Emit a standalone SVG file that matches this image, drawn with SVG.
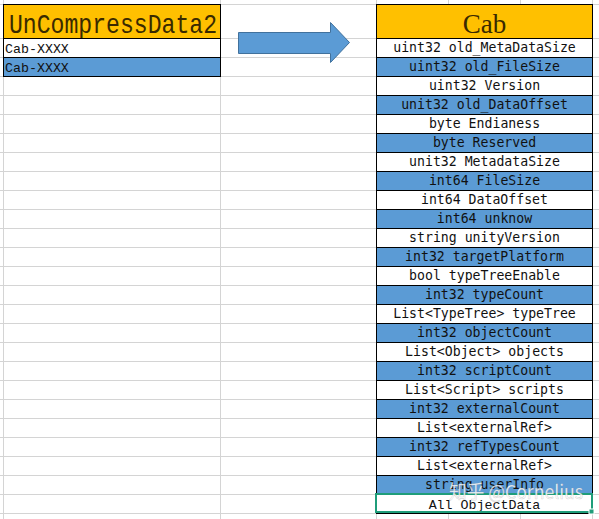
<svg xmlns="http://www.w3.org/2000/svg" width="599" height="519" viewBox="0 0 599 519">
<style>
.grid{stroke:#d4d4d4;stroke-width:1}
.hdr{fill:#FFC000;stroke:#000;stroke-width:1}
.w{fill:#fff;stroke:#000;stroke-width:1}
.b{fill:#5B9BD5;stroke:#000;stroke-width:1}
.t{font-family:"DejaVu Sans Mono","Liberation Mono",monospace;font-size:13.2px;fill:#111;text-anchor:middle}
.tl{font-family:"Liberation Mono","DejaVu Sans Mono",monospace;font-size:13.3px;fill:#111}
.h{font-family:"Liberation Mono",monospace;font-size:28px;fill:#3a2a00}
.hc{font-family:"Liberation Serif",serif;font-size:27px;fill:#3a2a00;text-anchor:middle}
</style>
<rect width="599" height="519" fill="#fff"/>
<g id="grid">
<path class="grid" d="M3.5 0V519M220.5 0V519M376.5 0V519M448.5 0V519M520.5 0V519M592.5 0V519"/>
<path class="grid" d="M0 4.5H599M0 38.5H599M0 57.5H599M0 76.5H599M0 95.5H599M0 114.5H599M0 133.5H599M0 152.5H599M0 171.5H599M0 190.5H599M0 209.5H599M0 228.5H599M0 247.5H599M0 266.5H599M0 285.5H599M0 304.5H599M0 323.5H599M0 342.5H599M0 361.5H599M0 380.5H599M0 399.5H599M0 418.5H599M0 437.5H599M0 456.5H599M0 475.5H599M0 494.5H599M0 513.5H599"/>
</g>
<g id="uncompress">
<rect class="hdr" x="3.5" y="4.5" width="217" height="34"/>
<text class="h" x="9" y="33" textLength="208" lengthAdjust="spacingAndGlyphs">UnCompressData2</text>
<rect class="w" x="3.5" y="38.5" width="217" height="19"/>
<text class="tl" x="5" y="53">Cab-XXXX</text>
<rect class="b" x="3.5" y="57.5" width="217" height="19"/>
<text class="tl" x="5" y="72">Cab-XXXX</text>
</g>
<g id="connectors">
<path d="M238.5 32.5H330.5V22.5L349.5 42.5L330.5 62.5V53.5H238.5Z" fill="#5B9BD5" stroke="#41719C" stroke-width="1"/>
</g>
<g id="cab">
<rect class="hdr" x="376.5" y="4.5" width="216" height="34"/>
<text class="hc" x="484.5" y="33">Cab</text>
<rect class="w" x="376.5" y="38.5" width="216" height="19"/><text class="t" x="484.5" y="52">uint32 old_MetaDataSize</text>
<rect class="b" x="376.5" y="57.5" width="216" height="19"/><text class="t" x="484.5" y="71">uint32 old_FileSize</text>
<rect class="w" x="376.5" y="76.5" width="216" height="19"/><text class="t" x="484.5" y="90">uint32 Version</text>
<rect class="b" x="376.5" y="95.5" width="216" height="19"/><text class="t" x="484.5" y="109">unit32 old_DataOffset</text>
<rect class="w" x="376.5" y="114.5" width="216" height="19"/><text class="t" x="484.5" y="128">byte Endianess</text>
<rect class="b" x="376.5" y="133.5" width="216" height="19"/><text class="t" x="484.5" y="147">byte Reserved</text>
<rect class="w" x="376.5" y="152.5" width="216" height="19"/><text class="t" x="484.5" y="166">unit32 MetadataSize</text>
<rect class="b" x="376.5" y="171.5" width="216" height="19"/><text class="t" x="484.5" y="185">int64 FileSize</text>
<rect class="w" x="376.5" y="190.5" width="216" height="19"/><text class="t" x="484.5" y="204">int64 DataOffset</text>
<rect class="b" x="376.5" y="209.5" width="216" height="19"/><text class="t" x="484.5" y="223">int64 unknow</text>
<rect class="w" x="376.5" y="228.5" width="216" height="19"/><text class="t" x="484.5" y="242">string unityVersion</text>
<rect class="b" x="376.5" y="247.5" width="216" height="19"/><text class="t" x="484.5" y="261">int32 targetPlatform</text>
<rect class="w" x="376.5" y="266.5" width="216" height="19"/><text class="t" x="484.5" y="280">bool typeTreeEnable</text>
<rect class="b" x="376.5" y="285.5" width="216" height="19"/><text class="t" x="484.5" y="299">int32 typeCount</text>
<rect class="w" x="376.5" y="304.5" width="216" height="19"/><text class="t" x="484.5" y="318">List&lt;TypeTree&gt; typeTree</text>
<rect class="b" x="376.5" y="323.5" width="216" height="19"/><text class="t" x="484.5" y="337">int32 objectCount</text>
<rect class="w" x="376.5" y="342.5" width="216" height="19"/><text class="t" x="484.5" y="356">List&lt;Object&gt; objects</text>
<rect class="b" x="376.5" y="361.5" width="216" height="19"/><text class="t" x="484.5" y="375">int32 scriptCount</text>
<rect class="w" x="376.5" y="380.5" width="216" height="19"/><text class="t" x="484.5" y="394">List&lt;Script&gt; scripts</text>
<rect class="b" x="376.5" y="399.5" width="216" height="19"/><text class="t" x="484.5" y="413">int32 externalCount</text>
<rect class="w" x="376.5" y="418.5" width="216" height="19"/><text class="t" x="484.5" y="432">List&lt;externalRef&gt;</text>
<rect class="b" x="376.5" y="437.5" width="216" height="19"/><text class="t" x="484.5" y="451">int32 refTypesCount</text>
<rect class="w" x="376.5" y="456.5" width="216" height="19"/><text class="t" x="484.5" y="470">List&lt;externalRef&gt;</text>
<rect class="b" x="376.5" y="475.5" width="216" height="19"/><text class="t" x="484.5" y="489">string userInfo</text>
<rect class="w" x="376.5" y="494.5" width="216" height="19"/><text class="tl" x="484.5" y="508.5" text-anchor="middle">All ObjectData</text>
<rect x="376" y="494" width="216" height="18" fill="none" stroke="#1f9d7a" stroke-width="2"/>
<rect x="589" y="509" width="5" height="5" fill="#1f9d7a" stroke="#fff" stroke-width="1"/>
</g>
<text x="449" y="499" textLength="134" lengthAdjust="spacingAndGlyphs" font-family="'Noto Sans CJK SC','Noto Sans',sans-serif" font-size="19" fill="#fff" fill-opacity="0.85" stroke="#888" stroke-opacity="0.35" stroke-width="0.6">知乎 @Cornelius</text>
</svg>
